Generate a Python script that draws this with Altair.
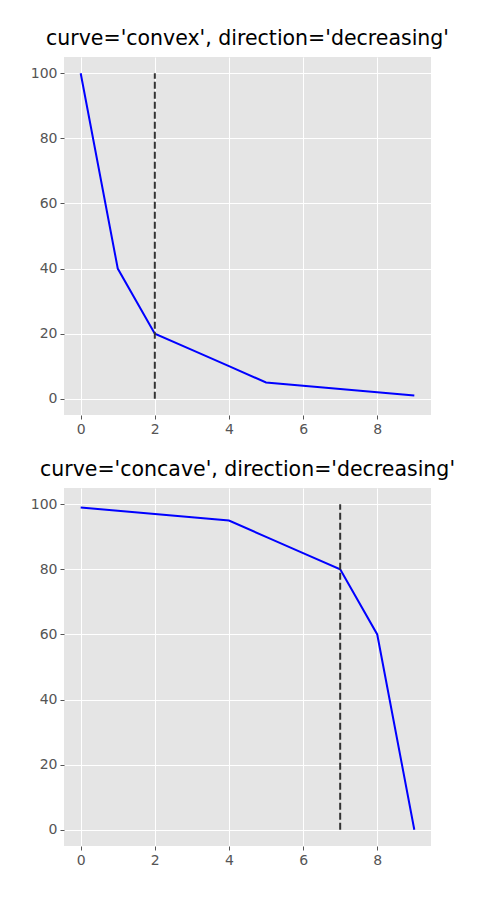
import altair as alt
import pandas as pd

x_vals = [0, 1, 2, 3, 4, 5, 6, 7, 8, 9]
y_convex = [100, 40, 20, 15, 10, 5, 4, 3, 2, 1]
y_concave = [99, 98, 97, 96, 95, 90, 85, 80, 60, 0]
knee_convex = 2
knee_concave = 7
vline_range = [0, 100]
x_ticks = [0, 2, 4, 6, 8]
y_ticks = [0, 20, 40, 60, 80, 100]
titles = ["curve='convex', direction='decreasing'", "curve='concave', direction='decreasing'"]

W, H = 367, 358
FONT = "DejaVu Sans"


def panel(ys, knee, title):
    df = pd.DataFrame({"x": x_vals, "y": ys})
    vdf = pd.DataFrame({"x": [knee], "y1": [vline_range[0]], "y2": [vline_range[1]]})
    xs = alt.Scale(domain=[-0.45, 9.45], nice=False, zero=False)
    ysc = alt.Scale(domain=[-5, 105], nice=False, zero=False)
    line = alt.Chart(df).mark_line(color="#0000FF", strokeWidth=2).encode(
        x=alt.X("x:Q", scale=xs, axis=alt.Axis(values=x_ticks, title=None)),
        y=alt.Y("y:Q", scale=ysc, axis=alt.Axis(values=y_ticks, title=None)),
    )
    vline = alt.Chart(vdf).mark_rule(color="#333333", strokeWidth=2, strokeDash=[7, 3]).encode(
        x="x:Q", y="y1:Q", y2="y2:Q"
    )
    return alt.layer(line, vline).properties(
        width=W, height=H,
        title=alt.TitleParams(title, fontSize=20.5, font=FONT, fontWeight="normal", color="#000000",
                              anchor="middle", offset=8),
    )


chart = alt.vconcat(
    panel(y_convex, knee_convex, titles[0]),
    panel(y_concave, knee_concave, titles[1]),
    spacing=23,
).properties(
    padding={"left": 22, "top": 20, "right": 5, "bottom": 5},
    background="#FFFFFF",
).configure_view(
    fill="#E5E5E5", stroke=None
).configure_axis(
    grid=True, gridColor="#FFFFFF", gridWidth=1, domain=False,
    tickColor="#555555", tickSize=4, tickWidth=1,
    labelColor="#555555", labelFont=FONT, labelFontSize=14, labelPadding=3,
)

chart.save("out.html", embed_options={"renderer": "svg", "actions": False})
